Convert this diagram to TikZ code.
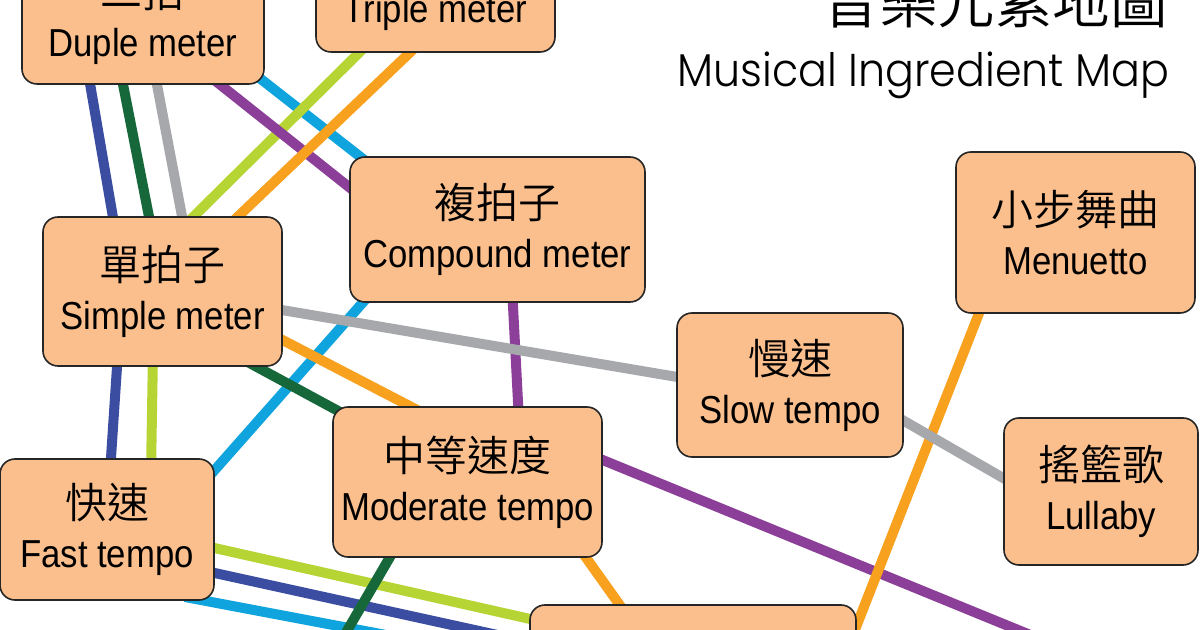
\documentclass[tikz,border=0pt]{standalone}
\usepackage{fontspec}
\setmainfont{Liberation Sans}
\IfFontExistsTF{Noto Sans CJK TC DemiLight}{\newfontfamily\cjk{Noto Sans CJK TC DemiLight}}{\newfontfamily\cjk{Noto Sans CJK TC}}
\newfontfamily\en[FakeStretch=0.89]{Liberation Sans}
\IfFontExistsTF{Poppins Light}{\newfontfamily\ttl[FakeStretch=0.93]{Poppins Light}}{\newfontfamily\ttl[FakeStretch=0.93]{Poppins}}
\definecolor{peach}{HTML}{FBBF8D}
\definecolor{lnavy}{HTML}{3B4DA0}
\definecolor{lgreen}{HTML}{16673A}
\definecolor{lgray}{HTML}{A6A8AB}
\definecolor{llime}{HTML}{B6D433}
\definecolor{lorange}{HTML}{F7A11F}
\definecolor{lpurple}{HTML}{8C3F98}
\definecolor{lcyan}{HTML}{0FA4DE}
\tikzset{
  box/.style={draw=black!85, line width=0.8pt, fill=peach, rounded corners=7.5pt,
    align=center, inner sep=0pt, font=\fontsize{19.5}{24.5}\selectfont},
  wh/.style 2 args={minimum width=#1*0.5pt, minimum height=#2*0.5pt},
  route/.style={line width=5pt},
}
\newcommand{\zh}[1]{{\cjk\fontsize{21}{24.5}\selectfont #1}}
\newcommand{\enl}[1]{{\en\fontsize{19.5}{24.5}\selectfont #1}}
\begin{document}
\begin{tikzpicture}[x=0.5pt,y=-0.5pt]
\useasboundingbox (0,0) rectangle (1200,630);
\clip (0,0) rectangle (1200,630);
\fill[white] (0,0) rectangle (1200,630);

% waypoints (inside boxes or beyond the frame)
\coordinate (a1) at (87.5,69);  \coordinate (a2) at (115.5,232);
\coordinate (b1) at (120,69);   \coordinate (b2) at (152,232);
\coordinate (c1) at (154,69);   \coordinate (c2) at (185,232);
\coordinate (d1) at (371,41);   \coordinate (d2) at (182,228);
\coordinate (e1) at (421,42);   \coordinate (e2) at (227,227);
\coordinate (f1) at (208,75);   \coordinate (f2) at (364,199);
\coordinate (g1) at (248,69);   \coordinate (g2) at (372,166);
\coordinate (h1) at (267,307.5);\coordinate (h2) at (692,379.5);
\coordinate (i1) at (892,414);  \coordinate (i2) at (1017,486);
\coordinate (j1) at (118,352);  \coordinate (j2) at (110,473);
\coordinate (k1) at (153,352);  \coordinate (k2) at (151,473);
\coordinate (l1) at (373,291);  \coordinate (l2) at (205,481);
\coordinate (m1) at (244,360);  \coordinate (m2) at (353,419);
\coordinate (n1) at (269,333);  \coordinate (n2) at (423,413);
\coordinate (o1) at (512,287);  \coordinate (o2) at (519,421);
\coordinate (p1) at (201,545);  \coordinate (p2) at (548,623);
\coordinate (q1) at (201,570);  \coordinate (q2) at (600,657.5);
\coordinate (r1) at (185,597);  \coordinate (r2) at (460,649);
\coordinate (s1) at (397,545);  \coordinate (s2) at (330,660);
\coordinate (t1) at (577,545);  \coordinate (t2) at (629,618);
\coordinate (u1) at (588,454);  \coordinate (u2) at (1100,663.5);
\coordinate (v1) at (985,298);  \coordinate (v2) at (849,645);

% routes
\draw[route, lcyan]   (g1) -- (g2);
\draw[route, lcyan]   (l1) -- (l2);
\draw[route, lcyan]   (r1) -- (r2);
\draw[route, llime]   (d1) -- (d2);
\draw[route, llime]   (k1) -- (k2);
\draw[route, llime]   (p1) -- (p2);
\draw[route, lpurple] (f1) -- (f2);
\draw[route, lpurple] (o1) -- (o2);
\draw[route, lpurple] (u1) -- (u2);
\draw[route, lorange] (e1) -- (e2);
\draw[route, lorange] (n1) -- (n2);
\draw[route, lorange] (t1) -- (t2);
\draw[route, lorange] (v1) -- (v2);
\draw[route, lgray]   (c1) -- (c2);
\draw[route, lgray]   (h1) -- (h2);
\draw[route, lgray]   (i1) -- (i2);
\draw[route, lgreen]  (b1) -- (b2);
\draw[route, lgreen]  (m1) -- (m2);
\draw[route, lnavy]   (a1) -- (a2);
\draw[route, lnavy]   (j1) -- (j2);
\draw[route, lnavy]   (q1) -- (q2);
\draw[route, lgreen]  (s1) -- (s2);

% boxes
\node[box, wh={242}{131}] (dup) at (143,18.5) {\zh{二拍}\\\enl{Duple meter}};
\node[box, wh={239}{135}] (tri) at (435.5,-15.5) {\zh{三拍}\\\enl{Triple meter}};
\node[box, wh={295}{145}] (cmp) at (497.5,229.5) {\zh{複拍子}\\\enl{Compound meter}};
\node[box, wh={239}{149}] (smp) at (162.5,291.5) {\zh{單拍子}\\\enl{Simple meter}};
\node[box, wh={239}{161}] (men) at (1075.5,232.5) {\zh{小步舞曲}\\\enl{Menuetto}};
\node[box, wh={226}{144}] (slw) at (790,385) {\zh{慢速}\\\enl{Slow tempo}};
\node[box, wh={194}{147}] (lul) at (1101,491.5) {\zh{搖籃歌}\\\enl{Lullaby}};
\node[box, wh={269}{150}] (mod) at (467.5,482) {\zh{中等速度}\\\enl{Moderate tempo}};
\node[box, wh={214}{141}] (fst) at (107,529.5) {\zh{快速}\\\enl{Fast tempo}};
\node[box, wh={326}{150}] (bot) at (693,680) {};

% title
\node[anchor=base east, inner sep=0pt] (title) at (1168,24)
  {\cjk\fontsize{28.75}{30}\selectfont 音樂元素地圖};
\node[anchor=base east, inner sep=0pt] (subtitle) at (1170,87)
  {\ttl\fontsize{23}{26}\selectfont Musical Ingredient Map};
\end{tikzpicture}
\end{document}
